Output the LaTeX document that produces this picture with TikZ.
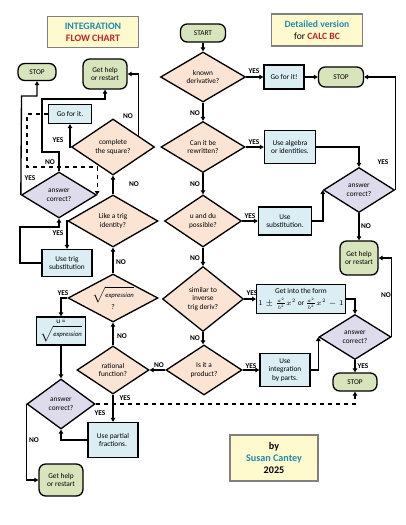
\documentclass[tikz,border=0pt]{standalone}
\usepackage{fix-cm}
\usepackage{fontspec}
\setmainfont{Carlito}
\usetikzlibrary{shapes.geometric,arrows.meta,calc}

\definecolor{askfill}{RGB}{252,228,212}
\definecolor{chkfill}{RGB}{222,220,236}
\definecolor{jobfill}{RGB}{218,238,243}
\definecolor{termfill}{RGB}{216,228,188}
\definecolor{notefill}{RGB}{255,249,206}
\definecolor{notegray}{RGB}{128,128,128}
\definecolor{tealtxt}{RGB}{32,138,172}
\definecolor{redtxt}{RGB}{200,32,32}
\newcommand\chartsize{\fontsize{5.5}{6.4}\selectfont}
\newcommand\rootexpr{{\fontsize{5}{6}\selectfont$\sqrt{\textit{expression}}$}}

\tikzset{every picture/.style={line width=1pt}}
\tikzset{
  ask/.style={diamond, draw, fill=askfill, shape aspect=2, inner sep=0pt, align=center, font=\chartsize},
  check/.style={ask, fill=chkfill},
  job/.style={rectangle, draw, fill=jobfill, inner sep=1pt, align=center, font=\chartsize},
  term/.style={rectangle, rounded corners=5pt, draw, fill=termfill, inner sep=1pt, align=center, font=\chartsize},
  note/.style={rectangle, draw=notegray, fill=notefill, inner sep=1pt, align=center},
  lbl/.style={inner sep=0pt, font=\chartsize\bfseries},
  flow/.style={-{Triangle[length=3pt,width=3.4pt]}},
}

\begin{document}
\begin{tikzpicture}[x=0.75pt,y=0.75pt,yscale=-1]
\useasboundingbox (0,0) rectangle (405,525);

% Title boxes
\node[note, minimum width=68.25pt, minimum height=23.25pt, font=\fontsize{7.4}{9}\selectfont\bfseries] (title) at (93,32) {\textcolor{tealtxt}{INTEGRATION}\\\textcolor{redtxt}{FLOW CHART}};
\node[note, minimum width=68.25pt, minimum height=24pt, font=\fontsize{7.2}{9}\selectfont] (version) at (317,30) {\textcolor{tealtxt}{\bfseries Detailed version}\\for \textcolor{redtxt}{\bfseries CALC BC}};
\node[note, minimum width=66pt, minimum height=34.5pt, font=\fontsize{7.6}{9.2}\selectfont\bfseries] (credit) at (274,458) {by\\\textcolor{tealtxt}{Susan Cantey}\\2025};

%Shape: Main column
\node[term, minimum width=33.75pt, minimum height=13.5pt] (start) at (203,33) {START};
\node[ask, minimum width=63.75pt, minimum height=37.5pt] (kd) at (203,77) {known\\derivative?};
\node[ask, minimum width=63pt, minimum height=38.25pt] (cr) at (203,147) {Can it be\\rewritten?};
\node[ask, minimum width=57.75pt, minimum height=39pt] (ud) at (203,221) {u and du\\possible?};
\node[ask, minimum width=60.75pt, minimum height=48.75pt] (it) at (203,299) {similar to\\inverse\\trig deriv?};
\node[ask, minimum width=57pt, minimum height=37.5pt] (pr) at (204,370) {Is it a\\product?};

%Shape: Left column
\node[ask, minimum width=54pt, minimum height=36pt] (rf) at (113,370) {rational\\function?};
\node[ask, minimum width=67.5pt, minimum height=36pt] (sq) at (113,298) {\rootexpr\\?};
\node[ask, minimum width=67.5pt, minimum height=39pt] (lt) at (113,221) {Like a trig\\identity?};
\node[ask, minimum width=62.25pt, minimum height=42pt] (cs) at (113,147) {complete\\the square?};

%Shape: Right column
\node[job, minimum width=30pt, minimum height=18pt] (go2) at (284,77) {Go for it!};
\node[term, minimum width=33.75pt, minimum height=15pt] (stop2) at (341,77) {STOP};
\node[job, minimum width=38.25pt, minimum height=24.75pt] (alg) at (290,147) {Use algebra\\or identities.};
\node[job, minimum width=39.75pt, minimum height=21pt] (sub) at (285,221) {Use\\substitution.};
\node[check, minimum width=53.25pt, minimum height=33.75pt] (ac2) at (359,190) {answer\\correct?};
\node[term, minimum width=28.5pt, minimum height=25.5pt] (help2) at (359,258) {Get help\\or restart};
\node[job, minimum width=52.5pt, minimum height=21.75pt] (form) at (301,299) {Get into the form\\[2.2pt]$1\pm\frac{a^2}{b^2}x^2\mbox{ or }\frac{a^2}{b^2}x^2-1$};
\node[job, minimum width=37.5pt, minimum height=24.75pt] (parts) at (285,370) {Use\\integration\\by parts.};
\node[check, minimum width=54pt, minimum height=33.75pt] (ac4) at (355,337) {answer\\correct?};
\node[term, minimum width=33pt, minimum height=13.5pt] (stop4) at (355,382) {STOP};

%Shape: Far left
\node[term, minimum width=28.5pt, minimum height=12.75pt] (stop1) at (37,72) {STOP};
\node[term, minimum width=33pt, minimum height=22.5pt] (help1) at (105,74) {Get help\\or restart};
\node[job, minimum width=32.25pt, minimum height=14.25pt] (go1) at (70,114) {Go for it.};
\node[check, minimum width=56.25pt, minimum height=34.5pt] (ac1) at (59,195) {answer\\correct?};
\node[job, minimum width=37.5pt, minimum height=20.25pt] (trig) at (67,263) {Use trig\\substitution};
\node[job, minimum width=36.75pt, minimum height=21pt] (ubox) at (61,331) {u =\\[1pt]\rootexpr};
\node[check, minimum width=51pt, minimum height=37.5pt] (ac3) at (61,404) {answer\\correct?};
\node[job, minimum width=37.5pt, minimum height=26.25pt] (pf) at (113,440) {Use partial\\fractions.};
\node[term, minimum width=33pt, minimum height=24pt] (help3) at (61,480) {Get help\\or restart};

% corners of the bent connectors
\coordinate (csturn) at ($(cs.north)!0.6!(cs.east)$);
\coordinate (t1) at (20,263);
\coordinate (t2) at (20,227);
\coordinate (y1) at (21.5,96);
\coordinate (n1) at (59,152);
\coordinate (n2) at (42,152);
\coordinate (n3) at (42,99);
\coordinate (d1) at (27,114);
\coordinate (d2) at (27,167);

%Straight Lines
\draw[flow] (start) -- (kd);
\draw[flow] (kd) -- (cr);
\draw[flow] (cr) -- (ud);
\draw[flow] (ud) -- (it);
\draw[flow] (it.south) -- (it.south |- pr.north);
\draw[flow] (pr) -- (rf);
\draw[flow] (rf) -- (sq);
\draw[flow] (sq) -- (lt);
\draw[flow] (lt) -- (cs);
\draw[flow] (kd) -- (go2);
\draw[flow] (go2) -- (stop2);
\draw[flow] (cr) -- (alg);
\draw[flow] (ud) -- (sub);
\draw[flow] (it) -- (form);
\draw[flow] (pr) -- (parts);
\draw[flow] (alg) -| (ac2);
\draw[flow] (sub.east) -| (ac2.west);
\draw[flow] (ac2.east) |- (stop2.east);
\draw[flow] (ac2) -- (help2);
\draw[flow] (form) -| (ac4);
\draw[flow] (parts.east) -| (ac4.west);
\draw[flow] (ac4) -- (stop4);
\draw[flow] (ac4.east) |- (help2.east);
\draw[flow, dashed] (ac3.east) -| (stop4.south);

\draw[flow] (cs.west) -| (go1.south);
\draw[flow] (csturn) |- (help1.east);
\draw[flow] (lt.west) -| (trig.north);
\draw[flow] (sq.west) -| (ubox.north);
\draw[flow] (rf) -- (pf);
\draw[flow] (ubox) -- (ac3);
\draw[flow] (pf.west) -| (ac3.south);
\draw[flow] (ac3.west) |- (help3.west);
\draw[flow] (trig.west) -- (t1) -- (t2) -| (ac1.south);
\draw[flow] (ac1.west) -- (y1) -| (stop1.south);
\draw[flow] (ac1.north) -- (n1) -- (n2) -- (n3) -| (help1.south);
\draw[flow, dashed] (go1.west) -- (d1) -- (d2) -| (ac1.east);

% Text Node
\node[lbl] (kdyes) at (254,71) {YES};
\node[lbl] (kdno) at (195,113) {NO};
\node[lbl] (cryes) at (254,142) {YES};
\node[lbl] (crno) at (195,184) {NO};
\node[lbl] (udyes) at (250,216) {YES};
\node[lbl] (udno) at (195,258) {NO};
\node[lbl] (ityes) at (252,293) {YES};
\node[lbl] (itno) at (195,338) {NO};
\node[lbl] (pryes) at (251,366) {YES};
\node[lbl] (prno) at (159,365) {NO};
\node[lbl] (rfno) at (122,336) {NO};
\node[lbl] (rfyes) at (125,398) {YES};
\node[lbl] (sqno) at (121,262) {NO};
\node[lbl] (sqyes) at (63,293) {YES};
\node[lbl] (ltno) at (134,184) {NO};
\node[lbl] (ltyes) at (58,233) {YES};
\node[lbl] (csno) at (128,116) {NO};
\node[lbl] (csyes) at (58,140) {YES};
\node[lbl] (ac1yes) at (30,178) {YES};
\node[lbl] (ac1no) at (50,162) {NO};
\node[lbl] (ac2yes) at (383,162) {YES};
\node[lbl] (ac2no) at (366,226) {NO};
\node[lbl] (ac4no) at (386,295) {NO};
\node[lbl] (ac4yes) at (363,366) {YES};
\node[lbl] (ac3yes) at (100,413) {YES};
\node[lbl] (ac3no) at (34,440) {NO};

\end{tikzpicture}
\end{document}
